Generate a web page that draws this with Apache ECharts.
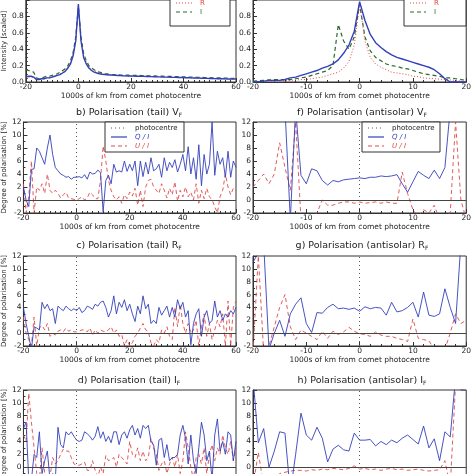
<!DOCTYPE html>
<html><head><meta charset="utf-8">
<script src="https://cdn.jsdelivr.net/npm/echarts@6/dist/echarts.min.js"></script>
<style>html,body{margin:0;padding:0;background:#fff;overflow:hidden}#c{width:474px;height:500px}</style>
</head><body><div id="c"></div>
<script>
const tailX=[-20,-19,-18,-17,-16,-15,-14,-13,-12,-11,-10,-9,-8,-7,-6,-5,-4,-3,-2,-1,0,1,2,3,4,5,6,7,8,9,10,11,12,13,14,15,16,17,18,19,20,21,22,23,24,25,26,27,28,29,30,31,32,33,34,35,36,37,38,39,40,41,42,43,44,45,46,47,48,49,50,51,52,53,54,55,56,57,58,59,60];
const antiX=[-20,-19,-18,-17,-16,-15,-14,-13,-12,-11,-10,-9,-8,-7,-6,-5,-4,-3,-2,-1,0,1,2,3,4,5,6,7,8,9,10,11,12,13,14,15,16,17,18,19,20];
const tailTicks=[-20,0,20,40,60];
const antiTicks=[-20,-10,0,10,20];
// a) intensity tail
const tailIntV=[.06,.07,.07,.06,.03,.03,.04,.04,.05,.05,.06,.07,.08,.09,.11,.13,.17,.22,.32,.5,.95,.5,.3,.22,.17,.14,.12,.11,.1,.095,.09,.088,.086,.084,.082,.08,.078,.076,.075,.074,.073,.072,.071,.07,.069,.068,.067,.066,.065,.064,.063,.062,.061,.06,.059,.058,.057,.056,.055,.054,.053,.052,.051,.05,.049,.048,.047,.046,.045,.044,.043,.042,.041,.04,.04,.039,.038,.037,.036,.035,.035];
const tailIntR=[.05,.06,.06,.05,.03,.03,.04,.04,.05,.05,.06,.07,.08,.1,.12,.14,.18,.24,.34,.52,.93,.52,.32,.24,.18,.15,.13,.12,.11,.1,.095,.09,.088,.085,.083,.08,.078,.076,.075,.074,.073,.072,.07,.069,.068,.067,.066,.065,.064,.063,.062,.061,.06,.059,.058,.057,.056,.055,.054,.053,.052,.051,.05,.049,.048,.047,.046,.045,.044,.043,.042,.041,.04,.04,.039,.038,.037,.036,.035,.034,.034];
const tailIntI=[.15,.14,.13,.12,.05,.04,.05,.06,.07,.07,.08,.09,.1,.12,.14,.16,.2,.26,.36,.55,.92,.55,.35,.26,.2,.17,.15,.13,.12,.11,.1,.1,.095,.09,.09,.088,.086,.085,.084,.083,.082,.081,.08,.08,.079,.078,.077,.076,.075,.074,.073,.072,.071,.07,.069,.068,.067,.066,.065,.064,.063,.062,.061,.06,.059,.058,.057,.056,.055,.054,.053,.052,.051,.05,.05,.049,.048,.047,.046,.045,.045];
// e) intensity antisolar
const antiIntV=[0,.005,.01,.02,.02,.02,.03,.05,.06,.08,.1,.12,.14,.17,.19,.22,.27,.35,.45,.62,.98,.75,.58,.48,.42,.37,.33,.3,.28,.26,.24,.22,.2,.18,.15,.1,.04,0,0,0,0];
const antiIntR=[0,0,.005,.01,.01,.015,.015,.02,.025,.03,.03,.04,.05,.06,.08,.1,.12,.17,.25,.45,.95,.5,.3,.22,.18,.15,.12,.11,.1,.09,.07,.065,.05,.045,.04,.035,.03,.025,.02,.01,0];
const antiIntI=[.01,.015,.02,.025,.03,.03,.03,.03,.04,.05,.06,.08,.1,.12,.14,.2,.7,.5,.4,.55,.95,.55,.38,.3,.26,.22,.2,.19,.17,.16,.14,.12,.1,.09,.08,.07,.05,.05,.04,.03,.02];
// b) tail V
const bQ=[2,0,-1,4.7,4.8,8,7.5,6.5,5.5,8,10,7,5,4.5,4,3.8,3.5,3.6,3.2,3.5,3.5,3.6,3.4,3.9,3.2,4.3,4,4.1,4.6,4.2,-1.8,3,3.8,2.5,5.5,4.3,4.5,4.3,6,4.4,5.5,4.5,6,2.2,6,3.6,5.8,4,6.5,4.5,4.8,5.5,3.5,6.5,4.5,5.8,5,6.2,4.3,5.5,7,4.5,8.2,4,6.5,3.2,8.5,2.2,7,4,5.5,12,3.8,7.5,5.5,6.5,3.5,7.5,3.5,6,5];
const bU=[2.5,-2,0.5,6,-2,2,1.5,2.5,1,4,1.5,1,1.5,1,0.3,0.8,1.2,0.3,0.2,0.1,0,0.2,0.5,0,0.3,1.2,0.8,0.2,0.2,3,8.3,6,3,1.5,0.5,0,0.5,-0.5,0.8,0.2,1.2,0.6,1.8,-0.8,1.5,-1,2,3,3.2,2,1.5,1,2.5,1.5,0.3,1.8,0.8,2.8,-0.2,1.5,0.5,2,0.5,1.2,0,2.5,-0.5,1.5,0.2,1.8,0.5,0,-1,-2,0.5,1.5,4,2,0.8,1.8,1.5];
// c) tail R
const cQ=[4,1.5,-0.5,-2.5,1,0.8,0.5,4.8,3.8,4.5,3.5,3.8,1.5,4.2,3.8,3.5,4.2,3.8,3.5,3.8,3.5,4,3.2,3.5,4.2,4,3.7,4.5,4.2,4.8,5,4,2.5,3.5,5.8,3,4.8,4,5.2,3.5,4.5,3,1.8,4.2,3,5.8,3.8,4.5,1.5,2,1.5,4,2.8,3.5,4.2,2.5,4,2.5,5.2,3.8,4.8,2.5,3.5,-1.8,1.5,3,3.8,-0.5,2.5,3.5,1.5,2,5,2.5,3.5,2,3,2.5,3.5,3,4];
const cU=[2.5,0,-1,-2,2.5,-2,0.8,1.2,0.5,1.5,-0.5,0,-0.3,0.3,0.5,0.2,0.8,0.3,0.5,0.2,0.2,0.3,0.5,0.5,0.2,0.8,-0.3,0.5,0,0.5,0.3,0.2,0.5,1,0,0.5,-0.5,-0.2,-2,-1,-2,-1.5,-0.5,0,0.8,1.5,0.5,0.3,-1.5,-2,-1,-1.5,0.5,0,1,-0.5,-1,4,1,4.5,1.5,0,1.5,0,0.5,2,-2,1,3,-0.5,1.5,-1,0.5,2,1,3,-2,5,-2,4,5];
// d) tail I
const dQ=[6,7,-2,-2,2,1.5,5.5,-1,1,2.5,-2,-1,-2,6.2,3.5,3,5.5,5,5.5,4.8,4.2,4,4.2,5.5,5.2,4.8,4.2,4.8,6.3,4.5,5.5,4,4.8,3.8,5.5,5.5,3.5,5,5.5,4.5,5.8,6.5,5,6,4.5,6.5,6,6.5,4,3.5,0.3,4.2,4.5,1.5,3.5,1,1.5,1.5,2,5,6.5,4.5,0.5,5,1,-1,3,7,5,1,2.5,-2,5,7.5,2.5,4,2,5.5,5,1,4];
const dU=[5,4,11.5,7,3,-1,-2,3,-1,-2,-1.5,1.5,0.5,1,2,2.8,2.5,2.5,1.5,0.5,0.3,0.3,0.5,0.8,-0.5,-0.5,1,-0.5,-1.5,0,-1,1.8,1,1.2,1.5,0,2,1.5,1,0.5,4,2,1.5,3,1,2.5,1,1.5,4.5,3,2,-0.5,0.5,1,-1,0.5,1.5,0,2,-1,1,5.5,3,0,-2,1.5,2,0.5,3,-1,2,3.5,1,3,2,5,3,2,4,1,3];
// f) antisolar V
const fQ=[14,14,14,14,14,14,14,-3,14,3.8,2.5,4.8,4.5,3,2.3,3,2.8,3.1,3.2,3.3,3.4,3.3,3.5,3.5,3.7,3.6,3.7,3.9,2.5,1.2,2.8,4.4,3.8,3.3,4.6,3.3,5,14,14,14,14];
const fU=[2,3,4,2.5,4,8.8,5,1.5,12,-3,-4,-3,-2,0,-0.8,-0.8,-0.5,-0.3,-0.3,-0.5,-0.3,-0.5,-0.4,-0.3,-0.5,-0.3,-0.5,-0.5,4.3,1,-1.5,-2.5,-1.5,-2,-0.8,-3,-2.5,-2,12,0,-3];
// g) antisolar R
const gQ=[11,12.5,14,-2.5,0,2,-0.5,3,4.5,5.5,1.5,0.1,3.2,3.1,4,4.5,3.8,3.9,3.7,3.9,3.4,4.1,3.8,4,3.9,2.8,4.8,3.3,3.5,4,4.8,2.5,6.4,2.8,2.6,3,6.9,4,1.5,14,14];
const gU=[-3,12,-3,-2,1,4,6,1,-1,0.5,0,-0.5,-1,0.3,-0.8,0.3,-0.2,0.2,0.9,0.3,-0.1,-0.2,-0.5,0.2,-0.3,-0.5,-0.5,-0.8,-1,-1.3,2.2,-0.8,-1,-1.2,-2.5,-3,-2.5,0,3,1.5,2];
// h) antisolar I
const hQ=[14,3.8,6,0,2.5,5.5,5.3,-4,2,8.4,5,4.2,6.2,4.5,0.8,2.8,3.4,2.7,2.5,5.3,4.2,4.2,4.3,3.3,4,3.5,4.2,3.8,4.5,5,4.3,3.6,6.4,3,4.4,1,5.5,4.7,14,12,12];
const hU=[-3,2.3,-3,-3,-3,-1,-0.8,-0.6,-0.5,-0.5,-0.6,-0.4,-0.5,-0.3,-0.4,-0.2,-0.3,-0.4,-0.2,0.2,-0.3,-0.2,-0.4,-0.3,-0.5,-0.3,-0.2,-0.4,-0.3,-0.5,-0.4,-0.3,-0.5,-0.6,-0.5,-0.4,1,-3,13,12,12];

const BLUE='#3340bb',RED='#dd4a4a',GREEN='#2a6a2a',AX='#333';
const F='DejaVu Sans';
const pairs=(xs,ys)=>xs.map((x,i)=>[x,ys[i]]);
const grids=[
 {left:23,top:-9,width:213,height:91},{left:253,top:-9,width:219,height:91},
 {left:23,top:122,width:213,height:91},{left:253,top:122,width:219,height:91},
 {left:23,top:256,width:213,height:90},{left:253,top:256,width:219,height:90},
 {left:23,top:390,width:213,height:90},{left:253,top:390,width:219,height:90}];
const xA=[],yA=[],series=[];
grids.forEach((g,i)=>{
  const tail=i%2===0, intens=i<2;
  const showName=i<6;
  xA.push({type:'value',gridIndex:i,min:-20,max:tail?60:20,interval:tail?20:10,
    name:showName?'1000s of km from comet photocentre':'',nameLocation:'middle',nameGap:9,
    nameTextStyle:{fontFamily:F,fontSize:7.5,color:'#222'},
    axisLine:{onZero:false,lineStyle:{color:AX}},axisTick:{inside:true,length:4,lineStyle:{color:AX}},
    minorTick:{show:true,splitNumber:tail?10:5,length:2,lineStyle:{color:AX}},
    axisLabel:{fontFamily:F,fontSize:7.5,color:'#222',margin:1},splitLine:{show:false}});
  yA.push({type:'value',gridIndex:i,min:intens?0:-2,max:intens?1:12,interval:intens?0.2:2,
    name:tail?(intens?'Intensity [scaled]':'Degree of polarisation [%]'):'',nameLocation:'middle',nameGap:14,
    nameTextStyle:{fontFamily:F,fontSize:7,color:'#222'},
    axisLine:{onZero:false,lineStyle:{color:AX}},axisTick:{inside:true,length:4,lineStyle:{color:AX}},
    minorTick:{show:true,splitNumber:intens?4:2,length:2,lineStyle:{color:AX}},
    axisLabel:{fontFamily:F,fontSize:7.5,color:'#222',margin:2,
      formatter:v=>intens?v.toFixed(1):String(v),showMaxLabel:!intens},splitLine:{show:false}});
});
function ln(i,xs,ys,color,type,w){series.push({type:'line',xAxisIndex:i,yAxisIndex:i,data:pairs(xs,ys),
  showSymbol:false,symbol:'none',lineStyle:{color,width:w||1,type},itemStyle:{color},silent:true,animation:false,clip:true});}
ln(0,tailX,tailIntI,GREEN,[4,3],1.2);ln(0,tailX,tailIntR,RED,[1,2],1);ln(0,tailX,tailIntV,BLUE,'solid',1.4);
ln(1,antiX,antiIntI,GREEN,[4,3],1.2);ln(1,antiX,antiIntR,RED,[1,2],1);ln(1,antiX,antiIntV,BLUE,'solid',1.4);
const pol=[[bQ,bU],[fQ,fU],[cQ,cU],[gQ,gU],[dQ,dU],[hQ,hU]];
pol.forEach((p,k)=>{const i=k+2,xs=(i%2===0)?tailX:antiX;
  ln(i,xs,p[1],RED,[4,3],0.9);ln(i,xs,p[0],BLUE,'solid',0.9);
  series[series.length-1].markLine={silent:true,symbol:'none',label:{show:false},animation:false,
    data:[{yAxis:0,lineStyle:{color:'#444',type:'solid',width:1}},{xAxis:0,lineStyle:{color:'#555',type:[1,3],width:1}}]};
});
const titles=[['b) Polarisation (tail) V','F',129,113],['f) Polarisation (antisolar) V','F',362,113],
 ['c) Polarisation (tail) R','F',129,246],['g) Polarisation (antisolar) R','F',362,246],
 ['d) Polarisation (tail) I','F',129,381],['h) Polarisation (antisolar) I','F',362,381]];
const graphic=[];
titles.forEach(t=>{graphic.push({type:'text',x:t[2],y:t[3],style:{text:'{a|'+t[0]+'}{s|'+t[1]+'}',align:'center',verticalAlign:'middle',
  rich:{a:{fontFamily:F,fontSize:9.5,fill:'#222'},s:{fontFamily:F,fontSize:6,fill:'#222',padding:[5,0,0,0]}}}});});
function legendBox(x,y,w,h,items){
  graphic.push({type:'rect',shape:{x,y,width:w,height:h},style:{fill:'#fff',stroke:'#333',lineWidth:1}});
  items.forEach((it,k)=>{const yy=y+6+k*9;
    graphic.push({type:'line',shape:{x1:x+6,y1:yy,x2:x+22,y2:yy},style:{stroke:it.c,lineWidth:1.2,lineDash:it.d}});
    graphic.push({type:'text',x:x+it.tx,y:yy,style:{text:it.t,fill:it.tc,fontFamily:F,fontSize:7,verticalAlign:'middle',fontStyle:it.it?'italic':'normal'}});
  });
}
legendBox(170,-12,60,38,[{c:BLUE,d:null,t:'V',tc:BLUE,tx:30},{c:RED,d:[1,2],t:'R',tc:RED,tx:30},{c:GREEN,d:[4,3],t:'I',tc:GREEN,tx:30}]);
legendBox(404,-12,62,38,[{c:BLUE,d:null,t:'V',tc:BLUE,tx:30},{c:RED,d:[1,2],t:'R',tc:RED,tx:30},{c:GREEN,d:[4,3],t:'I',tc:GREEN,tx:30}]);
const polLeg=[{c:'#555',d:[1,3],t:'photocentre',tc:'#222',tx:30},{c:BLUE,d:null,t:'Q / I',tc:BLUE,tx:30,it:1},{c:RED,d:[4,3],t:'U / I',tc:RED,tx:30,it:1}];
legendBox(105,122,79,30,polLeg);
legendBox(362,122,78,30,polLeg);
const chart=echarts.init(document.getElementById('c'),null,{renderer:'canvas'});
chart.setOption({animation:false,grid:grids.map(g=>Object.assign({containLabel:false,show:true,borderColor:AX,borderWidth:1},g)),
  xAxis:xA,yAxis:yA,series,graphic});
</script></body></html>
